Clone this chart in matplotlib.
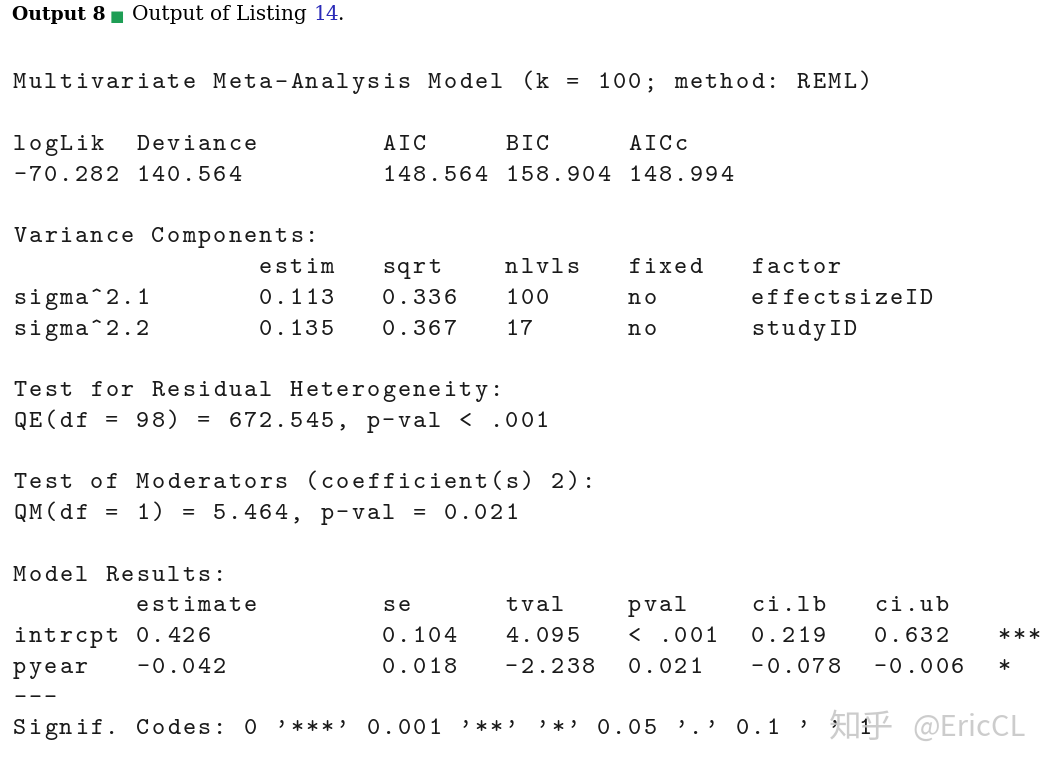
import os
import matplotlib
import matplotlib.pyplot as plt
from matplotlib.font_manager import FontProperties

# values
title_bold = "Output 8"
title_text = "Output of Listing"
title_ref = "14"

model_line = "Multivariate Meta-Analysis Model (k = 100; method: REML)"

fit_labels = ["logLik", "Deviance", "AIC", "BIC", "AICc"]
fit_values = [-70.282, 140.564, 148.564, 158.904, 148.994]

vc_header = ["estim", "sqrt", "nlvls", "fixed", "factor"]
vc_names = ["sigma^2.1", "sigma^2.2"]
vc_estim = [0.113, 0.135]
vc_sqrt = [0.336, 0.367]
vc_nlvls = [100, 17]
vc_fixed = ["no", "no"]
vc_factor = ["effectsizeID", "studyID"]

qe_df, qe_stat, qe_p = 98, 672.545, "< .001"
qm_coefs, qm_df, qm_stat, qm_p = 2, 1, 5.464, "0.021"

coef_header = ["estimate", "se", "tval", "pval", "ci.lb", "ci.ub"]
coef_names = ["intrcpt", "pyear"]
coef_est = [0.426, -0.042]
coef_se = [0.104, 0.018]
coef_tval = [4.095, -2.238]
coef_pval = ["< .001", "0.021"]
coef_cilb = [0.219, -0.078]
coef_ciub = [0.632, -0.006]
coef_signif = ["***", "*"]

signif_line = "Signif. Codes: 0 '***' 0.001 '**' '*' 0.05 '.' 0.1 ' ' 1"
watermark_site = "知乎"
watermark_user = "@EricCL"


def cells(items):
    # items: (column, text), columns are 8 characters wide
    line = ""
    for col, txt in items:
        line = line.ljust(col * 8) + txt
    return line


def build_lines():
    rows = {}
    rows[0] = model_line
    rows[2] = cells(zip([0, 1, 3, 4, 5], fit_labels))
    rows[3] = cells(zip([0, 1, 3, 4, 5], ["%.3f" % v for v in fit_values]))
    rows[5] = "Variance Components:"
    rows[6] = cells(zip([2, 3, 4, 5, 6], vc_header))
    for i in range(len(vc_names)):
        rows[7 + i] = cells([(0, vc_names[i]), (2, "%.3f" % vc_estim[i]),
                             (3, "%.3f" % vc_sqrt[i]), (4, str(vc_nlvls[i])),
                             (5, vc_fixed[i]), (6, vc_factor[i])])
    rows[10] = "Test for Residual Heterogeneity:"
    rows[11] = "QE(df = %d) = %.3f, p-val %s" % (qe_df, qe_stat, qe_p)
    rows[13] = "Test of Moderators (coefficient(s) %d):" % qm_coefs
    rows[14] = "QM(df = %d) = %.3f, p-val = %s" % (qm_df, qm_stat, qm_p)
    rows[16] = "Model Results:"
    rows[17] = cells(zip([1, 3, 4, 5, 6, 7], coef_header))
    for i in range(len(coef_names)):
        rows[18 + i] = cells([(0, coef_names[i]), (1, "%.3f" % coef_est[i]),
                              (3, "%.3f" % coef_se[i]), (4, "%.3f" % coef_tval[i]),
                              (5, coef_pval[i]), (6, "%.3f" % coef_cilb[i]),
                              (7, "%.3f" % coef_ciub[i]), (8, coef_signif[i])])
    rows[20] = "---"
    rows[21] = signif_line
    return rows


def main():
    fig = plt.figure(figsize=(10.55, 7.68), dpi=100)
    ax = fig.add_axes([0, 0, 1, 1])
    ax.set_xlim(0, 1055)
    ax.set_ylim(768, 0)
    ax.axis("off")

    # title line
    t1 = ax.text(12, 20, title_bold, fontfamily="DejaVu Serif",
                 fontweight="bold", fontsize=13.5, va="baseline")
    t2 = ax.annotate("\u25a0", xy=(1, 0), xycoords=t1, xytext=(3, 0),
                     textcoords="offset points", fontfamily="DejaVu Sans",
                     fontsize=11, color="#1e9e55", va="bottom")
    t3 = ax.annotate(title_text, xy=(1, 0), xycoords=t2, xytext=(6, 0),
                     textcoords="offset points", fontfamily="DejaVu Serif",
                     fontsize=14.5, va="bottom")
    t4 = ax.annotate(title_ref, xy=(1, 0), xycoords=t3, xytext=(4.5, 0),
                     textcoords="offset points", fontfamily="DejaVu Serif",
                     fontsize=14.5, color="#2a2ab8", va="bottom")
    ax.annotate(".", xy=(1, 0), xycoords=t4, xytext=(-1.5, 0),
                textcoords="offset points", fontfamily="DejaVu Serif",
                fontsize=14.5, va="bottom")

    # monospace block, one glyph per character cell
    mono = FontProperties(fname=os.path.join(matplotlib.get_data_path(),
                                             "fonts", "ttf", "cmtt10.ttf"),
                          size=18)
    x0, cw = 12, 15.37
    y0, lh = 88.5, 30.76
    for r, line in build_lines().items():
        for i, ch in enumerate(line):
            if ch != " ":
                ax.text(x0 + (i + 0.5) * cw, y0 + r * lh, ch,
                        fontproperties=mono, ha="center", va="baseline",
                        color="#1a1a1a")

    # zhihu watermark sits on top of the last line
    ax.text(829, 737, watermark_site, fontfamily=["Noto Sans CJK SC", "DejaVu Sans"],
            fontsize=23.5, color="#c4c4c4", alpha=0.85, va="baseline")
    ax.text(912, 736, watermark_user, fontfamily=["Noto Sans CJK SC", "DejaVu Sans"],
            fontsize=21, color="#c4c4c4", alpha=0.85, va="baseline")

    plt.savefig("out.png", dpi=100)


if __name__ == "__main__":
    main()
